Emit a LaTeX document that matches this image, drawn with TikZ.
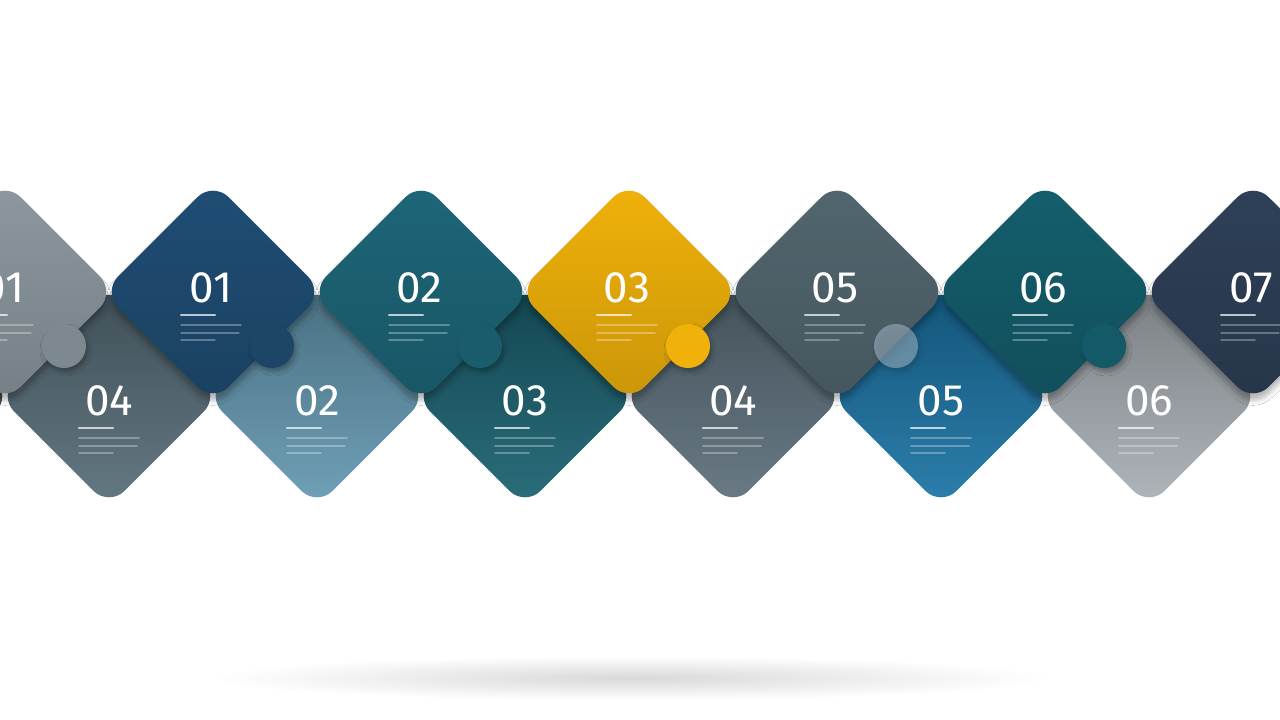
\documentclass[tikz,border=0pt]{standalone}
\usepackage{fontspec}
\setsansfont{Fira Sans}
\usetikzlibrary{shapes.geometric,calc,shadows.blur}

\definecolor{greyA}{HTML}{8C979F}
\definecolor{blueA}{HTML}{1F4D74}
\definecolor{tealA}{HTML}{1D6678}
\definecolor{sunA}{HTML}{F0B20A}
\definecolor{slateA}{HTML}{52666F}
\definecolor{tealB}{HTML}{145E6C}
\definecolor{navyA}{HTML}{2E4058}
\definecolor{darkA}{HTML}{4B4D58}
\definecolor{slateB}{HTML}{576D79}
\definecolor{skyA}{HTML}{6499B2}
\definecolor{tealC}{HTML}{196170}
\definecolor{slateC}{HTML}{5D707C}
\definecolor{blueB}{HTML}{1A74A6}
\definecolor{greyB}{HTML}{A9B0B6}
\definecolor{mistA}{HTML}{A3BACA}

\begin{document}
\begin{tikzpicture}[x=1pt,y=-1pt,font=\sffamily,
    tile/.style={shape=diamond,aspect=1,inner sep=0pt,minimum size=221pt,rounded corners=22pt},
    uptile/.style={tile,top color=#1,bottom color=#1!84!black,
      blur shadow={shadow xshift=0pt,shadow yshift=-7pt,shadow blur radius=5pt,shadow opacity=28}},
    lowtile/.style={tile,top color=#1!72!black,bottom color=#1!92!white},
    knob/.style={circle,inner sep=0pt,minimum size=44pt,fill=#1,
      blur shadow={shadow xshift=2pt,shadow yshift=-4pt,shadow blur radius=4pt,shadow opacity=28}},
    num/.style={text=white,font=\sffamily\fontsize{44}{44}\selectfont},
    headline/.style={white,opacity=.7,line width=2.2pt,line cap=round},
    bodyline/.style={white,opacity=.3,line width=1.5pt,line cap=round}]

  \useasboundingbox (0,0) rectangle (1280,720);
  \fill[white] (0,0) rectangle (1280,720);

  \shade[inner color=black!15,outer color=white] (630,678) ellipse [x radius=420,y radius=22];

  % lower row
  \node[lowtile=darkA] (b0) at (-99,396) {};
  \node[lowtile=slateB] (b1) at (109,396) {};
  \node[lowtile=skyA] (b2) at (317,396) {};
  \node[lowtile=tealC] (b3) at (525,396) {};
  \node[lowtile=slateC] (b4) at (733,396) {};
  \node[lowtile=blueB] (b5) at (941,396) {};
  \node[lowtile=greyB] (b6) at (1149,396) {};

  % upper row
  \node[uptile=greyA] (t0) at (5,292) {};
  \node[uptile=blueA] (t1) at (213,292) {};
  \node[uptile=tealA] (t2) at (421,292) {};
  \node[uptile=sunA] (t3) at (629,292) {};
  \node[uptile=slateA] (t4) at (837,292) {};
  \node[uptile=tealB] (t5) at (1045,292) {};
  \node[uptile=navyA] (t6) at (1253,292) {};

  \node[knob=greyA!90!black] (k0) at ($(t0)+(59,54)$) {};
  \node[knob=blueA!90!black] (k1) at ($(t1)+(59,54)$) {};
  \node[knob=tealA!90!black] (k2) at ($(t2)+(59,54)$) {};
  \node[knob=sunA] (k3) at ($(t3)+(59,54)$) {};
  \node[knob=mistA,fill opacity=.55] (k4) at ($(t4)+(59,54)$) {};
  \node[knob=tealB!95!black] (k5) at ($(t5)+(59,54)$) {};

  \node[num] (n0) at ($(t0)+(-2,-4)$) {01};
  \node[num] (n1) at ($(t1)+(-2,-4)$) {01};
  \node[num] (n2) at ($(t2)+(-2,-4)$) {02};
  \node[num] (n3) at ($(t3)+(-2,-4)$) {03};
  \node[num] (n4) at ($(t4)+(-2,-4)$) {05};
  \node[num] (n5) at ($(t5)+(-2,-4)$) {06};
  \node[num] (n6) at ($(t6)+(-2,-4)$) {07};

  \node[num] (m1) at ($(b1)+(0,5)$) {04};
  \node[num] (m2) at ($(b2)+(0,5)$) {02};
  \node[num] (m3) at ($(b3)+(0,5)$) {03};
  \node[num] (m4) at ($(b4)+(0,5)$) {04};
  \node[num] (m5) at ($(b5)+(0,5)$) {05};
  \node[num] (m6) at ($(b6)+(0,5)$) {06};

  \foreach \n in {n0,n1,n2,n3,n4,n5,n6,m1,m2,m3,m4,m5,m6} {
    \draw[headline] ($(\n)+(-30,27)$) -- ++(34,0);
    \draw[bodyline] ($(\n)+(-30,37)$) -- ++(60,0);
    \draw[bodyline] ($(\n)+(-30,45)$) -- ++(58,0);
    \draw[bodyline] ($(\n)+(-30,52)$) -- ++(34,0);
  }

\end{tikzpicture}
\end{document}
